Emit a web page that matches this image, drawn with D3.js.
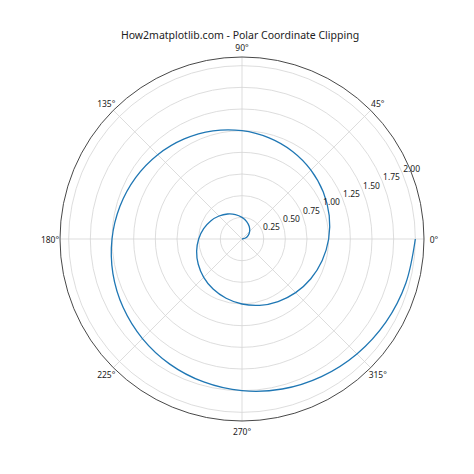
<!DOCTYPE html>
<html>
<head>
<meta charset="utf-8">
<script src="https://cdn.jsdelivr.net/npm/d3@7"></script>
<style>
  body { margin: 0; background: #fff; }
  svg text { font-family: "Noto Sans", "Open Sans", sans-serif; fill: #222; }
</style>
</head>
<body>
<div id="chart"></div>
<script>
// spiral points: angle in degrees, radius
const thetaDeg = [0, 15, 30, 45, 60, 75, 90, 105, 120, 135, 150, 165,
                  180, 195, 210, 225, 240, 255, 270, 285, 300, 315, 330, 345,
                  360, 375, 390, 405, 420, 435, 450, 465, 480, 495, 510, 525,
                  540, 555, 570, 585, 600, 615, 630, 645, 660, 675, 690, 705, 720];
const radius = [0, 0.042, 0.083, 0.125, 0.167, 0.208, 0.25, 0.292, 0.333, 0.375, 0.417, 0.458,
                0.5, 0.542, 0.583, 0.625, 0.667, 0.708, 0.75, 0.792, 0.833, 0.875, 0.917, 0.958,
                1.0, 1.042, 1.083, 1.125, 1.167, 1.208, 1.25, 1.292, 1.333, 1.375, 1.417, 1.458,
                1.5, 1.542, 1.583, 1.625, 1.667, 1.708, 1.75, 1.792, 1.833, 1.875, 1.917, 1.958, 2.0];
const rTicks = [0.25, 0.5, 0.75, 1.0, 1.25, 1.5, 1.75, 2.0];
const thetaTicks = [0, 45, 90, 135, 180, 225, 270, 315];
const rMax = 2.1;

const W = 474, H = 474;
const cx = 242, cy = 239, R = 182;

const svg = d3.select("#chart").append("svg")
    .attr("width", W)
    .attr("height", H);

const r = d3.scaleLinear().domain([0, rMax]).range([0, R]);

const g = svg.append("g")
    .attr("transform", "translate(" + cx + "," + cy + ")");

// rings
g.selectAll(".ring")
  .data(rTicks)
  .enter().append("circle")
    .attr("r", d => r(d))
    .attr("fill", "none")
    .attr("stroke", "#d4d4d4")
    .attr("stroke-width", 0.8);

// spokes
g.selectAll(".spoke")
  .data(thetaTicks)
  .enter().append("line")
    .attr("x1", 0).attr("y1", 0)
    .attr("x2", d => R * Math.cos(d * Math.PI / 180))
    .attr("y2", d => -R * Math.sin(d * Math.PI / 180))
    .attr("stroke", "#d4d4d4")
    .attr("stroke-width", 0.8);

// spiral
const pts = thetaDeg.map((t, i) => [t, radius[i]]);
const line = d3.lineRadial()
    .angle(d => Math.PI / 2 - d[0] * Math.PI / 180)
    .radius(d => r(d[1]))
    .curve(d3.curveCatmullRom.alpha(0.5));

g.append("path")
    .datum(pts)
    .attr("d", line)
    .attr("fill", "none")
    .attr("stroke", "#1f77b4")
    .attr("stroke-width", 1.3);

// outer frame
g.append("circle")
    .attr("r", R)
    .attr("fill", "none")
    .attr("stroke", "#333")
    .attr("stroke-width", 0.9);

// angle labels
g.selectAll(".tlab")
  .data(thetaTicks)
  .enter().append("text")
    .attr("x", d => (R + 10) * Math.cos(d * Math.PI / 180))
    .attr("y", d => -(R + 10) * Math.sin(d * Math.PI / 180))
    .attr("text-anchor", "middle")
    .attr("dominant-baseline", "central")
    .attr("font-size", 8.5)
    .text(d => d + "°");

// radial labels along 22.5 deg
const la = 22.5 * Math.PI / 180;
g.selectAll(".rlab")
  .data(rTicks)
  .enter().append("text")
    .attr("x", d => r(d) * Math.cos(la) + 1)
    .attr("y", d => -r(d) * Math.sin(la) - 4)
    .attr("text-anchor", "start")
    .attr("dominant-baseline", "central")
    .attr("font-size", 8.5)
    .text(d => d.toFixed(2));

svg.append("text")
    .attr("x", 240)
    .attr("y", 35)
    .attr("text-anchor", "middle")
    .attr("dominant-baseline", "central")
    .attr("font-size", 10.5)
    .text("How2matplotlib.com - Polar Coordinate Clipping");
</script>
</body>
</html>
